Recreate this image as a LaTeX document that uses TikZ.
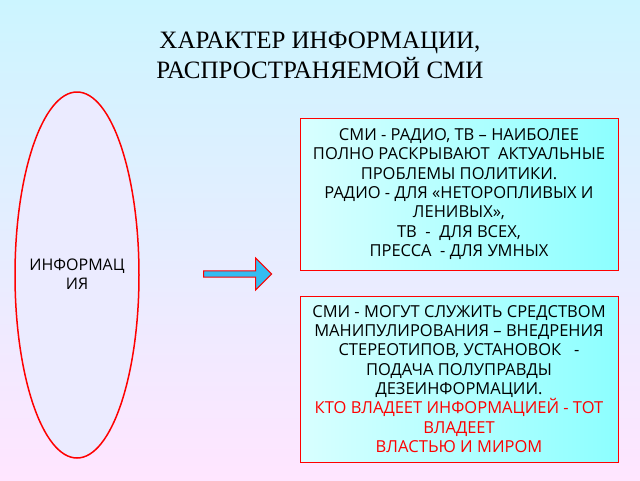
\documentclass[tikz,border=0pt]{standalone}
\usepackage{fontspec}
\setmainfont{Liberation Serif}
\newfontfamily\boxfont{Open Sans}
\usetikzlibrary{shapes.arrows,shapes.geometric}
\begin{document}
\begin{tikzpicture}[x=1pt,y=-1pt,
  infobox/.style={draw=red,line width=1pt,left color=white!85!cyan,right color=cyan!45!white,minimum width=318pt,align=center,font=\boxfont\fontsize{16.5}{19.3}\selectfont,inner sep=1pt}]
\useasboundingbox (0,0) rectangle (640,480);
\shade[top color=blue!20!cyan!20!white, bottom color=magenta!10!white] (0,0) rectangle (640,480);
\node[font=\fontsize{25}{30}\selectfont,align=center] (title) at (320,55) {ХАРАКТЕР ИНФОРМАЦИИ,\\РАСПРОСТРАНЯЕМОЙ СМИ};
\node[draw=red,line width=1.5pt,ellipse,fill=blue!8!white,minimum width=124pt,minimum height=366pt,inner sep=0pt] (ell) at (77,275) {};
\node[font=\boxfont\fontsize{16}{19}\selectfont,align=center] (inf) at (77,274) {ИНФОРМАЦ\\ИЯ};
\node[infobox,minimum height=152pt] (b1) at (459,194) {СМИ - РАДИО, ТВ – НАИБОЛЕЕ\\ПОЛНО РАСКРЫВАЮТ \ АКТУАЛЬНЫЕ\\ПРОБЛЕМЫ ПОЛИТИКИ.\\РАДИО - ДЛЯ «НЕТОРОПЛИВЫХ И\\ЛЕНИВЫХ»,\\ТВ \ - \ ДЛЯ ВСЕХ,\\ПРЕССА \ - ДЛЯ УМНЫХ};
\node[infobox,minimum height=166pt] (b2) at (459,379) {СМИ - МОГУТ СЛУЖИТЬ СРЕДСТВОМ\\МАНИПУЛИРОВАНИЯ – ВНЕДРЕНИЯ\\СТЕРЕОТИПОВ, УСТАНОВОК \ \ -\\ПОДАЧА ПОЛУПРАВДЫ\\ДЕЗЕИНФОРМАЦИИ.\\\textcolor{red}{КТО ВЛАДЕЕТ ИНФОРМАЦИЕЙ - ТОТ}\\\textcolor{red}{ВЛАДЕЕТ}\\\textcolor{red}{ВЛАСТЬЮ И МИРОМ}};
\node[single arrow,draw=red,line width=1pt,fill=cyan!80!white,minimum width=32pt,single arrow head extend=6pt,single arrow head indent=0pt,minimum height=68pt,inner sep=1pt] (arr) at (236,274) {};
\end{tikzpicture}
\end{document}
